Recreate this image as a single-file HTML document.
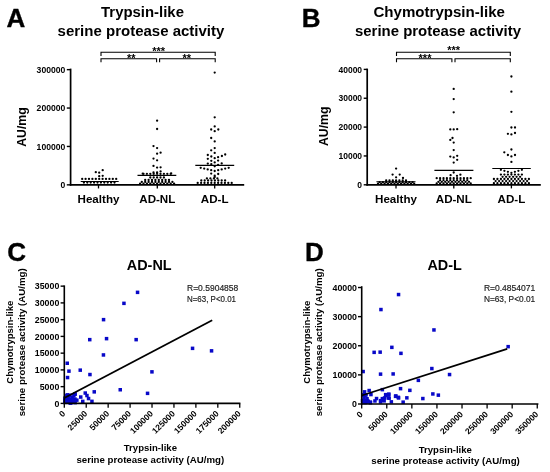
<!DOCTYPE html>
<html><head><meta charset="utf-8"><title>Serine protease activity</title>
<style>
html,body{margin:0;padding:0;background:#fff;}
body{width:550px;height:472px;overflow:hidden;}
svg{display:block;font-family:"Liberation Sans", sans-serif;}
</style></head><body>
<svg width="550" height="472" viewBox="0 0 550 472">
<rect width="550" height="472" fill="#fff"/>
<text x="6.6" y="27.4" font-size="26" font-weight="bold" text-anchor="start" fill="#000" stroke="#000" stroke-width="0.35">A</text>
<text x="301.8" y="27.4" font-size="26" font-weight="bold" text-anchor="start" fill="#000" stroke="#000" stroke-width="0.35">B</text>
<text x="7.2" y="261" font-size="26" font-weight="bold" text-anchor="start" fill="#000" stroke="#000" stroke-width="0.35">C</text>
<text x="304.9" y="261" font-size="26" font-weight="bold" text-anchor="start" fill="#000" stroke="#000" stroke-width="0.35">D</text>
<text x="142.5" y="17.2" font-size="15.0" font-weight="bold" text-anchor="middle" fill="#000" textLength="82.9" lengthAdjust="spacingAndGlyphs">Trypsin-like</text>
<text x="141" y="35.5" font-size="15.0" font-weight="bold" text-anchor="middle" fill="#000" textLength="166.8" lengthAdjust="spacingAndGlyphs">serine protease activity</text>
<line x1="70.6" y1="68.6" x2="70.6" y2="185.65" stroke="#000" stroke-width="1.7" stroke-linecap="butt"/>
<line x1="69.8" y1="184.85" x2="244.2" y2="184.85" stroke="#000" stroke-width="1.7" stroke-linecap="butt"/>
<line x1="66.8" y1="184.85" x2="70.6" y2="184.85" stroke="#000" stroke-width="1.4" stroke-linecap="butt"/>
<text x="65.3" y="188.04999999999998" font-size="9.2" font-weight="bold" text-anchor="end" fill="#000" textLength="4.78" lengthAdjust="spacingAndGlyphs">0</text>
<line x1="66.8" y1="146.45" x2="70.6" y2="146.45" stroke="#000" stroke-width="1.4" stroke-linecap="butt"/>
<text x="65.3" y="149.64999999999998" font-size="9.2" font-weight="bold" text-anchor="end" fill="#000" textLength="28.69" lengthAdjust="spacingAndGlyphs">100000</text>
<line x1="66.8" y1="108.05" x2="70.6" y2="108.05" stroke="#000" stroke-width="1.4" stroke-linecap="butt"/>
<text x="65.3" y="111.25" font-size="9.2" font-weight="bold" text-anchor="end" fill="#000" textLength="28.69" lengthAdjust="spacingAndGlyphs">200000</text>
<line x1="66.8" y1="69.65" x2="70.6" y2="69.65" stroke="#000" stroke-width="1.4" stroke-linecap="butt"/>
<text x="65.3" y="72.85000000000001" font-size="9.2" font-weight="bold" text-anchor="end" fill="#000" textLength="28.69" lengthAdjust="spacingAndGlyphs">300000</text>
<text x="26" y="127.0" font-size="12.3" font-weight="bold" text-anchor="middle" fill="#000" transform="rotate(-90 26 127.0)">AU/mg</text>
<line x1="98.5" y1="184.85" x2="98.5" y2="188.45" stroke="#000" stroke-width="1.3" stroke-linecap="butt"/>
<text x="98.5" y="203.4" font-size="11.6" font-weight="bold" text-anchor="middle" fill="#000">Healthy</text>
<line x1="157.3" y1="184.85" x2="157.3" y2="188.45" stroke="#000" stroke-width="1.3" stroke-linecap="butt"/>
<text x="157.3" y="203.4" font-size="11.6" font-weight="bold" text-anchor="middle" fill="#000">AD-NL</text>
<line x1="214.7" y1="184.85" x2="214.7" y2="188.45" stroke="#000" stroke-width="1.3" stroke-linecap="butt"/>
<text x="214.7" y="203.4" font-size="11.6" font-weight="bold" text-anchor="middle" fill="#000">AD-L</text>
<path d="M101 55.9V52.3H215.2V55.9" fill="none" stroke="#000" stroke-width="1.1"/>
<path d="M101 62.300000000000004V58.7H156.6V62.300000000000004" fill="none" stroke="#000" stroke-width="1.1"/>
<path d="M159.6 62.300000000000004V58.7H215.2V62.300000000000004" fill="none" stroke="#000" stroke-width="1.1"/>
<text x="158.7" y="54.5" font-size="11" font-weight="bold" text-anchor="middle" fill="#000">***</text>
<text x="131.2" y="61.6" font-size="11" font-weight="bold" text-anchor="middle" fill="#000">**</text>
<text x="186.8" y="61.6" font-size="11" font-weight="bold" text-anchor="middle" fill="#000">**</text>
<line x1="80.7" y1="181.5" x2="118.7" y2="181.5" stroke="#000" stroke-width="1.1" stroke-linecap="butt"/>
<line x1="137.5" y1="175.4" x2="176.3" y2="175.4" stroke="#000" stroke-width="1.1" stroke-linecap="butt"/>
<line x1="195.3" y1="165.4" x2="234.2" y2="165.4" stroke="#000" stroke-width="1.1" stroke-linecap="butt"/>
<g fill="#000"><circle cx="102.7" cy="170.2" r="1.15"/><circle cx="95.8" cy="172.2" r="1.15"/><circle cx="99.2" cy="172.7" r="1.15"/><circle cx="99.2" cy="176.2" r="1.15"/><circle cx="102.7" cy="175.8" r="1.15"/><circle cx="82.2" cy="178.9" r="1.15"/><circle cx="85.6" cy="178.9" r="1.15"/><circle cx="89.0" cy="178.9" r="1.15"/><circle cx="92.4" cy="178.9" r="1.15"/><circle cx="95.8" cy="178.9" r="1.15"/><circle cx="99.2" cy="178.9" r="1.15"/><circle cx="102.6" cy="178.9" r="1.15"/><circle cx="106.0" cy="178.9" r="1.15"/><circle cx="109.4" cy="178.9" r="1.15"/><circle cx="112.8" cy="178.9" r="1.15"/><circle cx="116.2" cy="178.9" r="1.15"/><circle cx="83.9" cy="182.5" r="1.15"/><circle cx="87.3" cy="182.5" r="1.15"/><circle cx="90.7" cy="182.5" r="1.15"/><circle cx="94.1" cy="182.5" r="1.15"/><circle cx="97.5" cy="182.5" r="1.15"/><circle cx="100.9" cy="182.5" r="1.15"/><circle cx="104.3" cy="182.5" r="1.15"/><circle cx="107.7" cy="182.5" r="1.15"/><circle cx="111.1" cy="182.5" r="1.15"/><circle cx="114.5" cy="182.5" r="1.15"/></g>
<g fill="#000"><circle cx="157.1" cy="120.7" r="1.15"/><circle cx="157.1" cy="129.0" r="1.15"/><circle cx="153.5" cy="146.1" r="1.15"/><circle cx="157.1" cy="148.1" r="1.15"/><circle cx="160.6" cy="152.7" r="1.15"/><circle cx="157.1" cy="153.7" r="1.15"/><circle cx="153.5" cy="158.6" r="1.15"/><circle cx="157.1" cy="160.3" r="1.15"/><circle cx="153.5" cy="165.9" r="1.15"/><circle cx="160.6" cy="167.3" r="1.15"/><circle cx="157.1" cy="167.6" r="1.15"/><circle cx="160.6" cy="171.4" r="1.15"/><circle cx="157.1" cy="172.4" r="1.15"/><circle cx="153.5" cy="172.4" r="1.15"/><circle cx="143.5" cy="173.8" r="1.15"/><circle cx="146.9" cy="173.8" r="1.15"/><circle cx="150.3" cy="173.8" r="1.15"/><circle cx="153.7" cy="173.8" r="1.15"/><circle cx="157.1" cy="173.8" r="1.15"/><circle cx="160.5" cy="173.8" r="1.15"/><circle cx="163.9" cy="173.8" r="1.15"/><circle cx="167.3" cy="173.8" r="1.15"/><circle cx="170.7" cy="173.8" r="1.15"/><circle cx="150.3" cy="177.5" r="1.15"/><circle cx="153.7" cy="177.5" r="1.15"/><circle cx="157.1" cy="177.5" r="1.15"/><circle cx="160.5" cy="177.5" r="1.15"/><circle cx="163.9" cy="177.5" r="1.15"/><circle cx="145.2" cy="180.0" r="1.15"/><circle cx="148.6" cy="180.0" r="1.15"/><circle cx="152.0" cy="180.0" r="1.15"/><circle cx="155.4" cy="180.0" r="1.15"/><circle cx="158.8" cy="180.0" r="1.15"/><circle cx="162.2" cy="180.0" r="1.15"/><circle cx="165.6" cy="180.0" r="1.15"/><circle cx="169.0" cy="180.0" r="1.15"/><circle cx="141.8" cy="181.9" r="1.15"/><circle cx="145.2" cy="181.9" r="1.15"/><circle cx="148.6" cy="181.9" r="1.15"/><circle cx="152.0" cy="181.9" r="1.15"/><circle cx="155.4" cy="181.9" r="1.15"/><circle cx="158.8" cy="181.9" r="1.15"/><circle cx="162.2" cy="181.9" r="1.15"/><circle cx="165.6" cy="181.9" r="1.15"/><circle cx="169.0" cy="181.9" r="1.15"/><circle cx="172.4" cy="181.9" r="1.15"/><circle cx="140.1" cy="183.6" r="1.15"/><circle cx="143.5" cy="183.6" r="1.15"/><circle cx="146.9" cy="183.6" r="1.15"/><circle cx="150.3" cy="183.6" r="1.15"/><circle cx="153.7" cy="183.6" r="1.15"/><circle cx="157.1" cy="183.6" r="1.15"/><circle cx="160.5" cy="183.6" r="1.15"/><circle cx="163.9" cy="183.6" r="1.15"/><circle cx="167.3" cy="183.6" r="1.15"/><circle cx="170.7" cy="183.6" r="1.15"/><circle cx="174.1" cy="183.6" r="1.15"/><circle cx="142.7" cy="173.6" r="1.15"/><circle cx="171.2" cy="173.3" r="1.15"/></g>
<g fill="#000"><circle cx="214.7" cy="72.6" r="1.15"/><circle cx="214.7" cy="117.3" r="1.15"/><circle cx="214.7" cy="126.4" r="1.15"/><circle cx="211.2" cy="129.5" r="1.15"/><circle cx="218.3" cy="129.5" r="1.15"/><circle cx="214.7" cy="131.2" r="1.15"/><circle cx="211.2" cy="138.0" r="1.15"/><circle cx="214.7" cy="141.4" r="1.15"/><circle cx="214.7" cy="148.1" r="1.15"/><circle cx="211.2" cy="150.3" r="1.15"/><circle cx="214.7" cy="152.9" r="1.15"/><circle cx="207.8" cy="155.0" r="1.15"/><circle cx="225.2" cy="154.5" r="1.15"/><circle cx="221.9" cy="156.0" r="1.15"/><circle cx="211.3" cy="156.5" r="1.15"/><circle cx="218.1" cy="157.2" r="1.15"/><circle cx="214.7" cy="158.2" r="1.15"/><circle cx="207.8" cy="158.8" r="1.15"/><circle cx="211.3" cy="160.8" r="1.15"/><circle cx="218.1" cy="160.6" r="1.15"/><circle cx="214.7" cy="162.4" r="1.15"/><circle cx="207.8" cy="163.6" r="1.15"/><circle cx="221.7" cy="163.4" r="1.15"/><circle cx="211.3" cy="164.2" r="1.15"/><circle cx="218.1" cy="164.8" r="1.15"/><circle cx="214.7" cy="166.3" r="1.15"/><circle cx="200.7" cy="167.8" r="1.15"/><circle cx="204.2" cy="168.6" r="1.15"/><circle cx="207.7" cy="169.4" r="1.15"/><circle cx="211.2" cy="170.2" r="1.15"/><circle cx="214.7" cy="171.0" r="1.15"/><circle cx="218.2" cy="170.2" r="1.15"/><circle cx="221.7" cy="169.4" r="1.15"/><circle cx="225.2" cy="168.6" r="1.15"/><circle cx="228.7" cy="167.8" r="1.15"/><circle cx="211.2" cy="173.6" r="1.15"/><circle cx="214.7" cy="175.6" r="1.15"/><circle cx="218.2" cy="174.0" r="1.15"/><circle cx="214.7" cy="177.0" r="1.15"/><circle cx="206.9" cy="178.4" r="1.15"/><circle cx="210.4" cy="178.4" r="1.15"/><circle cx="213.9" cy="178.4" r="1.15"/><circle cx="217.4" cy="178.4" r="1.15"/><circle cx="201.3" cy="180.5" r="1.15"/><circle cx="204.7" cy="180.5" r="1.15"/><circle cx="208.1" cy="180.5" r="1.15"/><circle cx="211.5" cy="180.5" r="1.15"/><circle cx="214.9" cy="180.5" r="1.15"/><circle cx="218.3" cy="180.5" r="1.15"/><circle cx="221.7" cy="180.5" r="1.15"/><circle cx="225.1" cy="180.5" r="1.15"/><circle cx="197.7" cy="182.9" r="1.15"/><circle cx="201.1" cy="182.9" r="1.15"/><circle cx="204.5" cy="182.9" r="1.15"/><circle cx="207.9" cy="182.9" r="1.15"/><circle cx="211.3" cy="182.9" r="1.15"/><circle cx="214.7" cy="182.9" r="1.15"/><circle cx="218.1" cy="182.9" r="1.15"/><circle cx="221.5" cy="182.9" r="1.15"/><circle cx="224.9" cy="182.9" r="1.15"/><circle cx="228.3" cy="182.9" r="1.15"/><circle cx="231.7" cy="182.9" r="1.15"/></g>
<text x="439.2" y="17.2" font-size="15.0" font-weight="bold" text-anchor="middle" fill="#000" textLength="131.5" lengthAdjust="spacingAndGlyphs">Chymotrypsin-like</text>
<text x="438" y="35.5" font-size="15.0" font-weight="bold" text-anchor="middle" fill="#000" textLength="166" lengthAdjust="spacingAndGlyphs">serine protease activity</text>
<line x1="367.2" y1="68.6" x2="367.2" y2="185.60000000000002" stroke="#000" stroke-width="1.7" stroke-linecap="butt"/>
<line x1="366.4" y1="184.8" x2="540.8" y2="184.8" stroke="#000" stroke-width="1.7" stroke-linecap="butt"/>
<line x1="363.7" y1="184.8" x2="367.2" y2="184.8" stroke="#000" stroke-width="1.4" stroke-linecap="butt"/>
<text x="362.1" y="188.0" font-size="9.2" font-weight="bold" text-anchor="end" fill="#000" textLength="4.73" lengthAdjust="spacingAndGlyphs">0</text>
<line x1="363.7" y1="155.95000000000002" x2="367.2" y2="155.95000000000002" stroke="#000" stroke-width="1.4" stroke-linecap="butt"/>
<text x="362.1" y="159.15" font-size="9.2" font-weight="bold" text-anchor="end" fill="#000" textLength="23.63" lengthAdjust="spacingAndGlyphs">10000</text>
<line x1="363.7" y1="127.10000000000001" x2="367.2" y2="127.10000000000001" stroke="#000" stroke-width="1.4" stroke-linecap="butt"/>
<text x="362.1" y="130.3" font-size="9.2" font-weight="bold" text-anchor="end" fill="#000" textLength="23.63" lengthAdjust="spacingAndGlyphs">20000</text>
<line x1="363.7" y1="98.25" x2="367.2" y2="98.25" stroke="#000" stroke-width="1.4" stroke-linecap="butt"/>
<text x="362.1" y="101.45" font-size="9.2" font-weight="bold" text-anchor="end" fill="#000" textLength="23.63" lengthAdjust="spacingAndGlyphs">30000</text>
<line x1="363.7" y1="69.4" x2="367.2" y2="69.4" stroke="#000" stroke-width="1.4" stroke-linecap="butt"/>
<text x="362.1" y="72.60000000000001" font-size="9.2" font-weight="bold" text-anchor="end" fill="#000" textLength="23.63" lengthAdjust="spacingAndGlyphs">40000</text>
<text x="328.1" y="126.3" font-size="12.3" font-weight="bold" text-anchor="middle" fill="#000" transform="rotate(-90 328.1 126.3)">AU/mg</text>
<line x1="396" y1="184.8" x2="396" y2="188.4" stroke="#000" stroke-width="1.3" stroke-linecap="butt"/>
<text x="396" y="203.4" font-size="11.6" font-weight="bold" text-anchor="middle" fill="#000">Healthy</text>
<line x1="453.8" y1="184.8" x2="453.8" y2="188.4" stroke="#000" stroke-width="1.3" stroke-linecap="butt"/>
<text x="453.8" y="203.4" font-size="11.6" font-weight="bold" text-anchor="middle" fill="#000">AD-NL</text>
<line x1="511.4" y1="184.8" x2="511.4" y2="188.4" stroke="#000" stroke-width="1.3" stroke-linecap="butt"/>
<text x="511.4" y="203.4" font-size="11.6" font-weight="bold" text-anchor="middle" fill="#000">AD-L</text>
<path d="M396.5 55.9V52.3H510.3V55.9" fill="none" stroke="#000" stroke-width="1.1"/>
<path d="M396.5 62.300000000000004V58.7H451.9V62.300000000000004" fill="none" stroke="#000" stroke-width="1.1"/>
<path d="M455 62.300000000000004V58.7H510.3V62.300000000000004" fill="none" stroke="#000" stroke-width="1.1"/>
<text x="453.7" y="54.4" font-size="11" font-weight="bold" text-anchor="middle" fill="#000">***</text>
<text x="425" y="61.6" font-size="11" font-weight="bold" text-anchor="middle" fill="#000">***</text>
<line x1="376.4" y1="181.7" x2="415.5" y2="181.7" stroke="#000" stroke-width="1.1" stroke-linecap="butt"/>
<line x1="434.4" y1="170.4" x2="473.4" y2="170.4" stroke="#000" stroke-width="1.1" stroke-linecap="butt"/>
<line x1="492.3" y1="168.5" x2="530.8" y2="168.5" stroke="#000" stroke-width="1.1" stroke-linecap="butt"/>
<g fill="#000"><circle cx="396.1" cy="168.6" r="1.15"/><circle cx="392.6" cy="174.6" r="1.15"/><circle cx="399.7" cy="174.6" r="1.15"/><circle cx="396.1" cy="177.3" r="1.15"/><circle cx="403.0" cy="178.0" r="1.15"/><circle cx="386.2" cy="180.5" r="1.15"/><circle cx="389.5" cy="180.5" r="1.15"/><circle cx="392.8" cy="180.5" r="1.15"/><circle cx="396.1" cy="180.5" r="1.15"/><circle cx="399.4" cy="180.5" r="1.15"/><circle cx="402.7" cy="180.5" r="1.15"/><circle cx="406.0" cy="180.5" r="1.15"/><circle cx="379.6" cy="182.2" r="1.15"/><circle cx="382.9" cy="182.2" r="1.15"/><circle cx="386.2" cy="182.2" r="1.15"/><circle cx="389.5" cy="182.2" r="1.15"/><circle cx="392.8" cy="182.2" r="1.15"/><circle cx="396.1" cy="182.2" r="1.15"/><circle cx="399.4" cy="182.2" r="1.15"/><circle cx="402.7" cy="182.2" r="1.15"/><circle cx="406.0" cy="182.2" r="1.15"/><circle cx="409.3" cy="182.2" r="1.15"/><circle cx="412.6" cy="182.2" r="1.15"/><circle cx="378.0" cy="183.6" r="1.15"/><circle cx="381.2" cy="183.6" r="1.15"/><circle cx="384.6" cy="183.6" r="1.15"/><circle cx="387.9" cy="183.6" r="1.15"/><circle cx="391.2" cy="183.6" r="1.15"/><circle cx="394.5" cy="183.6" r="1.15"/><circle cx="397.8" cy="183.6" r="1.15"/><circle cx="401.1" cy="183.6" r="1.15"/><circle cx="404.4" cy="183.6" r="1.15"/><circle cx="407.7" cy="183.6" r="1.15"/><circle cx="411.0" cy="183.6" r="1.15"/><circle cx="414.2" cy="183.6" r="1.15"/></g>
<g fill="#000"><circle cx="453.7" cy="88.9" r="1.15"/><circle cx="453.7" cy="99.1" r="1.15"/><circle cx="453.7" cy="112.3" r="1.15"/><circle cx="450.3" cy="129.4" r="1.15"/><circle cx="453.7" cy="129.4" r="1.15"/><circle cx="457.2" cy="129.2" r="1.15"/><circle cx="452.5" cy="138.0" r="1.15"/><circle cx="450.3" cy="139.9" r="1.15"/><circle cx="453.7" cy="142.6" r="1.15"/><circle cx="453.7" cy="150.1" r="1.15"/><circle cx="450.3" cy="156.6" r="1.15"/><circle cx="457.2" cy="155.8" r="1.15"/><circle cx="453.7" cy="157.4" r="1.15"/><circle cx="457.2" cy="159.8" r="1.15"/><circle cx="453.7" cy="162.6" r="1.15"/><circle cx="453.7" cy="172.5" r="1.15"/><circle cx="460.4" cy="174.7" r="1.15"/><circle cx="450.6" cy="175.2" r="1.15"/><circle cx="457.0" cy="175.8" r="1.15"/><circle cx="436.7" cy="178.2" r="1.15"/><circle cx="440.1" cy="178.2" r="1.15"/><circle cx="443.5" cy="178.2" r="1.15"/><circle cx="446.9" cy="178.2" r="1.15"/><circle cx="450.3" cy="178.2" r="1.15"/><circle cx="453.7" cy="178.2" r="1.15"/><circle cx="457.1" cy="178.2" r="1.15"/><circle cx="460.5" cy="178.2" r="1.15"/><circle cx="463.9" cy="178.2" r="1.15"/><circle cx="467.3" cy="178.2" r="1.15"/><circle cx="470.7" cy="178.2" r="1.15"/><circle cx="440.1" cy="180.2" r="1.15"/><circle cx="443.5" cy="180.2" r="1.15"/><circle cx="446.9" cy="180.2" r="1.15"/><circle cx="450.3" cy="180.2" r="1.15"/><circle cx="453.7" cy="180.2" r="1.15"/><circle cx="457.1" cy="180.2" r="1.15"/><circle cx="460.5" cy="180.2" r="1.15"/><circle cx="463.9" cy="180.2" r="1.15"/><circle cx="467.3" cy="180.2" r="1.15"/><circle cx="438.4" cy="181.8" r="1.15"/><circle cx="441.8" cy="181.8" r="1.15"/><circle cx="445.2" cy="181.8" r="1.15"/><circle cx="448.6" cy="181.8" r="1.15"/><circle cx="452.0" cy="181.8" r="1.15"/><circle cx="455.4" cy="181.8" r="1.15"/><circle cx="458.8" cy="181.8" r="1.15"/><circle cx="462.2" cy="181.8" r="1.15"/><circle cx="465.6" cy="181.8" r="1.15"/><circle cx="469.0" cy="181.8" r="1.15"/><circle cx="436.7" cy="183.4" r="1.15"/><circle cx="440.1" cy="183.4" r="1.15"/><circle cx="443.5" cy="183.4" r="1.15"/><circle cx="446.9" cy="183.4" r="1.15"/><circle cx="450.3" cy="183.4" r="1.15"/><circle cx="453.7" cy="183.4" r="1.15"/><circle cx="457.1" cy="183.4" r="1.15"/><circle cx="460.5" cy="183.4" r="1.15"/><circle cx="463.9" cy="183.4" r="1.15"/><circle cx="467.3" cy="183.4" r="1.15"/><circle cx="470.7" cy="183.4" r="1.15"/></g>
<g fill="#000"><circle cx="511.4" cy="76.5" r="1.15"/><circle cx="511.4" cy="91.7" r="1.15"/><circle cx="511.4" cy="111.8" r="1.15"/><circle cx="511.4" cy="127.5" r="1.15"/><circle cx="515.0" cy="127.5" r="1.15"/><circle cx="507.9" cy="133.8" r="1.15"/><circle cx="511.4" cy="134.4" r="1.15"/><circle cx="515.0" cy="133.0" r="1.15"/><circle cx="511.4" cy="149.5" r="1.15"/><circle cx="504.3" cy="152.3" r="1.15"/><circle cx="507.9" cy="155.0" r="1.15"/><circle cx="511.4" cy="156.4" r="1.15"/><circle cx="515.0" cy="155.0" r="1.15"/><circle cx="511.4" cy="161.9" r="1.15"/><circle cx="500.9" cy="169.8" r="1.15"/><circle cx="504.4" cy="170.8" r="1.15"/><circle cx="507.9" cy="171.8" r="1.15"/><circle cx="511.4" cy="172.8" r="1.15"/><circle cx="514.9" cy="171.8" r="1.15"/><circle cx="518.4" cy="170.8" r="1.15"/><circle cx="521.9" cy="169.8" r="1.15"/><circle cx="500.9" cy="174.6" r="1.15"/><circle cx="504.4" cy="174.6" r="1.15"/><circle cx="507.9" cy="174.6" r="1.15"/><circle cx="511.4" cy="174.6" r="1.15"/><circle cx="514.9" cy="174.6" r="1.15"/><circle cx="518.4" cy="174.6" r="1.15"/><circle cx="521.9" cy="174.6" r="1.15"/><circle cx="502.6" cy="176.8" r="1.15"/><circle cx="506.1" cy="176.8" r="1.15"/><circle cx="509.6" cy="176.8" r="1.15"/><circle cx="513.1" cy="176.8" r="1.15"/><circle cx="516.6" cy="176.8" r="1.15"/><circle cx="520.1" cy="176.8" r="1.15"/><circle cx="493.9" cy="179.0" r="1.15"/><circle cx="497.4" cy="179.0" r="1.15"/><circle cx="500.9" cy="179.0" r="1.15"/><circle cx="504.4" cy="179.0" r="1.15"/><circle cx="507.9" cy="179.0" r="1.15"/><circle cx="511.4" cy="179.0" r="1.15"/><circle cx="514.9" cy="179.0" r="1.15"/><circle cx="518.4" cy="179.0" r="1.15"/><circle cx="521.9" cy="179.0" r="1.15"/><circle cx="525.4" cy="179.0" r="1.15"/><circle cx="528.9" cy="179.0" r="1.15"/><circle cx="495.6" cy="181.1" r="1.15"/><circle cx="499.1" cy="181.1" r="1.15"/><circle cx="502.6" cy="181.1" r="1.15"/><circle cx="506.1" cy="181.1" r="1.15"/><circle cx="509.6" cy="181.1" r="1.15"/><circle cx="513.1" cy="181.1" r="1.15"/><circle cx="516.6" cy="181.1" r="1.15"/><circle cx="520.1" cy="181.1" r="1.15"/><circle cx="523.6" cy="181.1" r="1.15"/><circle cx="527.1" cy="181.1" r="1.15"/><circle cx="493.9" cy="183.2" r="1.15"/><circle cx="497.4" cy="183.2" r="1.15"/><circle cx="500.9" cy="183.2" r="1.15"/><circle cx="504.4" cy="183.2" r="1.15"/><circle cx="507.9" cy="183.2" r="1.15"/><circle cx="511.4" cy="183.2" r="1.15"/><circle cx="514.9" cy="183.2" r="1.15"/><circle cx="518.4" cy="183.2" r="1.15"/><circle cx="521.9" cy="183.2" r="1.15"/><circle cx="525.4" cy="183.2" r="1.15"/><circle cx="528.9" cy="183.2" r="1.15"/></g>
<text x="149.2" y="269.6" font-size="15.3" font-weight="bold" text-anchor="middle" fill="#000" textLength="44.8" lengthAdjust="spacingAndGlyphs">AD-NL</text>
<line x1="60.6" y1="403.4" x2="64.3" y2="403.4" stroke="#000" stroke-width="1.4" stroke-linecap="butt"/>
<text x="59.3" y="406.59999999999997" font-size="9.3" font-weight="bold" text-anchor="end" fill="#000" textLength="4.89" lengthAdjust="spacingAndGlyphs">0</text>
<line x1="60.6" y1="386.65" x2="64.3" y2="386.65" stroke="#000" stroke-width="1.4" stroke-linecap="butt"/>
<text x="59.3" y="389.84999999999997" font-size="9.3" font-weight="bold" text-anchor="end" fill="#000" textLength="19.57" lengthAdjust="spacingAndGlyphs">5000</text>
<line x1="60.6" y1="369.9" x2="64.3" y2="369.9" stroke="#000" stroke-width="1.4" stroke-linecap="butt"/>
<text x="59.3" y="373.09999999999997" font-size="9.3" font-weight="bold" text-anchor="end" fill="#000" textLength="24.46" lengthAdjust="spacingAndGlyphs">10000</text>
<line x1="60.6" y1="353.15" x2="64.3" y2="353.15" stroke="#000" stroke-width="1.4" stroke-linecap="butt"/>
<text x="59.3" y="356.34999999999997" font-size="9.3" font-weight="bold" text-anchor="end" fill="#000" textLength="24.46" lengthAdjust="spacingAndGlyphs">15000</text>
<line x1="60.6" y1="336.4" x2="64.3" y2="336.4" stroke="#000" stroke-width="1.4" stroke-linecap="butt"/>
<text x="59.3" y="339.59999999999997" font-size="9.3" font-weight="bold" text-anchor="end" fill="#000" textLength="24.46" lengthAdjust="spacingAndGlyphs">20000</text>
<line x1="60.6" y1="319.65" x2="64.3" y2="319.65" stroke="#000" stroke-width="1.4" stroke-linecap="butt"/>
<text x="59.3" y="322.84999999999997" font-size="9.3" font-weight="bold" text-anchor="end" fill="#000" textLength="24.46" lengthAdjust="spacingAndGlyphs">25000</text>
<line x1="60.6" y1="302.9" x2="64.3" y2="302.9" stroke="#000" stroke-width="1.4" stroke-linecap="butt"/>
<text x="59.3" y="306.09999999999997" font-size="9.3" font-weight="bold" text-anchor="end" fill="#000" textLength="24.46" lengthAdjust="spacingAndGlyphs">30000</text>
<line x1="60.6" y1="286.15" x2="64.3" y2="286.15" stroke="#000" stroke-width="1.4" stroke-linecap="butt"/>
<text x="59.3" y="289.34999999999997" font-size="9.3" font-weight="bold" text-anchor="end" fill="#000" textLength="24.46" lengthAdjust="spacingAndGlyphs">35000</text>
<line x1="64.3" y1="403.4" x2="64.3" y2="407.79999999999995" stroke="#000" stroke-width="1.3" stroke-linecap="butt"/>
<text x="65.89999999999999" y="414.2" font-size="8.5" font-weight="bold" text-anchor="end" fill="#000" transform="rotate(-45 65.89999999999999 414.2)">0</text>
<line x1="86.22999999999999" y1="403.4" x2="86.22999999999999" y2="407.79999999999995" stroke="#000" stroke-width="1.3" stroke-linecap="butt"/>
<text x="87.82999999999998" y="414.2" font-size="8.5" font-weight="bold" text-anchor="end" fill="#000" transform="rotate(-45 87.82999999999998 414.2)">25000</text>
<line x1="108.16" y1="403.4" x2="108.16" y2="407.79999999999995" stroke="#000" stroke-width="1.3" stroke-linecap="butt"/>
<text x="109.75999999999999" y="414.2" font-size="8.5" font-weight="bold" text-anchor="end" fill="#000" transform="rotate(-45 109.75999999999999 414.2)">50000</text>
<line x1="130.08999999999997" y1="403.4" x2="130.08999999999997" y2="407.79999999999995" stroke="#000" stroke-width="1.3" stroke-linecap="butt"/>
<text x="131.68999999999997" y="414.2" font-size="8.5" font-weight="bold" text-anchor="end" fill="#000" transform="rotate(-45 131.68999999999997 414.2)">75000</text>
<line x1="152.01999999999998" y1="403.4" x2="152.01999999999998" y2="407.79999999999995" stroke="#000" stroke-width="1.3" stroke-linecap="butt"/>
<text x="153.61999999999998" y="414.2" font-size="8.5" font-weight="bold" text-anchor="end" fill="#000" transform="rotate(-45 153.61999999999998 414.2)">100000</text>
<line x1="173.95" y1="403.4" x2="173.95" y2="407.79999999999995" stroke="#000" stroke-width="1.3" stroke-linecap="butt"/>
<text x="175.54999999999998" y="414.2" font-size="8.5" font-weight="bold" text-anchor="end" fill="#000" transform="rotate(-45 175.54999999999998 414.2)">125000</text>
<line x1="195.88" y1="403.4" x2="195.88" y2="407.79999999999995" stroke="#000" stroke-width="1.3" stroke-linecap="butt"/>
<text x="197.48" y="414.2" font-size="8.5" font-weight="bold" text-anchor="end" fill="#000" transform="rotate(-45 197.48 414.2)">150000</text>
<line x1="217.81" y1="403.4" x2="217.81" y2="407.79999999999995" stroke="#000" stroke-width="1.3" stroke-linecap="butt"/>
<text x="219.41" y="414.2" font-size="8.5" font-weight="bold" text-anchor="end" fill="#000" transform="rotate(-45 219.41 414.2)">175000</text>
<line x1="239.74" y1="403.4" x2="239.74" y2="407.79999999999995" stroke="#000" stroke-width="1.3" stroke-linecap="butt"/>
<text x="241.34" y="414.2" font-size="8.5" font-weight="bold" text-anchor="end" fill="#000" transform="rotate(-45 241.34 414.2)">200000</text>
<text x="13.2" y="342.2" font-size="9.7" font-weight="bold" text-anchor="middle" fill="#000" transform="rotate(-90 13.2 342.2)" textLength="83" lengthAdjust="spacingAndGlyphs">Chymotrypsin-like</text>
<text x="25.0" y="342.3" font-size="9.7" font-weight="bold" text-anchor="middle" fill="#000" transform="rotate(-90 25.0 342.3)" textLength="148" lengthAdjust="spacingAndGlyphs">serine protease activity (AU/mg)</text>
<text x="150.4" y="450.9" font-size="9.7" font-weight="bold" text-anchor="middle" fill="#000" textLength="53.2" lengthAdjust="spacingAndGlyphs">Trypsin-like</text>
<text x="150.3" y="462.6" font-size="9.7" font-weight="bold" text-anchor="middle" fill="#000" textLength="147.8" lengthAdjust="spacingAndGlyphs">serine protease activity (AU/mg)</text>
<text x="187.0" y="290.7" font-size="9.8" font-weight="normal" text-anchor="start" fill="#222" stroke="#222" stroke-width="0.2" textLength="51.3" lengthAdjust="spacingAndGlyphs">R=0.5904858</text>
<text x="187.0" y="302.2" font-size="9.8" font-weight="normal" text-anchor="start" fill="#222" stroke="#222" stroke-width="0.2" textLength="49" lengthAdjust="spacingAndGlyphs">N=63, P&lt;0.01</text>
<g fill="#0808c8"><rect x="135.8" y="290.6" width="3.5" height="3.5"/><rect x="122.2" y="301.6" width="3.5" height="3.5"/><rect x="101.8" y="317.9" width="3.5" height="3.5"/><rect x="88.0" y="337.9" width="3.5" height="3.5"/><rect x="104.8" y="336.9" width="3.5" height="3.5"/><rect x="134.4" y="337.9" width="3.5" height="3.5"/><rect x="101.7" y="353.2" width="3.5" height="3.5"/><rect x="65.5" y="361.5" width="3.5" height="3.5"/><rect x="67.2" y="369.4" width="3.5" height="3.5"/><rect x="78.5" y="368.4" width="3.5" height="3.5"/><rect x="65.8" y="375.8" width="3.5" height="3.5"/><rect x="88.2" y="372.8" width="3.5" height="3.5"/><rect x="190.8" y="346.6" width="3.5" height="3.5"/><rect x="209.8" y="349.1" width="3.5" height="3.5"/><rect x="150.2" y="370.1" width="3.5" height="3.5"/><rect x="118.5" y="388.0" width="3.5" height="3.5"/><rect x="145.8" y="391.6" width="3.5" height="3.5"/><rect x="92.5" y="390.1" width="3.5" height="3.5"/><rect x="83.5" y="391.3" width="3.5" height="3.5"/><rect x="85.2" y="393.8" width="3.5" height="3.5"/><rect x="86.8" y="396.8" width="3.5" height="3.5"/><rect x="79.0" y="395.3" width="3.5" height="3.5"/><rect x="81.0" y="399.6" width="3.5" height="3.5"/><rect x="90.2" y="399.6" width="3.5" height="3.5"/><rect x="63.5" y="396.7" width="3.5" height="3.5"/><rect x="68.1" y="397.7" width="3.5" height="3.5"/><rect x="64.4" y="400.5" width="3.5" height="3.5"/><rect x="73.4" y="400.9" width="3.5" height="3.5"/><rect x="63.2" y="398.7" width="3.5" height="3.5"/><rect x="69.1" y="401.3" width="3.5" height="3.5"/><rect x="66.2" y="397.7" width="3.5" height="3.5"/><rect x="65.0" y="399.8" width="3.5" height="3.5"/><rect x="70.3" y="395.7" width="3.5" height="3.5"/><rect x="71.9" y="400.5" width="3.5" height="3.5"/><rect x="63.9" y="400.2" width="3.5" height="3.5"/><rect x="63.3" y="396.4" width="3.5" height="3.5"/><rect x="63.4" y="400.5" width="3.5" height="3.5"/><rect x="67.1" y="398.2" width="3.5" height="3.5"/><rect x="65.1" y="393.8" width="3.5" height="3.5"/><rect x="65.7" y="393.1" width="3.5" height="3.5"/><rect x="70.8" y="397.3" width="3.5" height="3.5"/><rect x="75.1" y="398.4" width="3.5" height="3.5"/><rect x="64.8" y="400.3" width="3.5" height="3.5"/><rect x="65.5" y="399.4" width="3.5" height="3.5"/><rect x="68.7" y="400.6" width="3.5" height="3.5"/><rect x="66.2" y="399.2" width="3.5" height="3.5"/><rect x="68.4" y="401.3" width="3.5" height="3.5"/><rect x="67.3" y="397.4" width="3.5" height="3.5"/><rect x="73.2" y="397.3" width="3.5" height="3.5"/><rect x="68.2" y="393.5" width="3.5" height="3.5"/><rect x="73.4" y="392.3" width="3.5" height="3.5"/><rect x="64.5" y="399.5" width="3.5" height="3.5"/><rect x="72.1" y="393.9" width="3.5" height="3.5"/><rect x="68.8" y="398.7" width="3.5" height="3.5"/><rect x="63.8" y="398.9" width="3.5" height="3.5"/><rect x="66.5" y="397.1" width="3.5" height="3.5"/><rect x="63.4" y="400.1" width="3.5" height="3.5"/><rect x="73.1" y="392.3" width="3.5" height="3.5"/><rect x="71.3" y="397.8" width="3.5" height="3.5"/><rect x="65.6" y="400.3" width="3.5" height="3.5"/><rect x="65.5" y="395.2" width="3.5" height="3.5"/><rect x="64.1" y="400.6" width="3.5" height="3.5"/></g>
<line x1="64.3" y1="285.4" x2="64.3" y2="404.2" stroke="#000" stroke-width="1.6" stroke-linecap="butt"/>
<line x1="63.5" y1="403.4" x2="240.4" y2="403.4" stroke="#000" stroke-width="1.6" stroke-linecap="butt"/>
<line x1="64.3" y1="398.0" x2="212.2" y2="320.2" stroke="#000" stroke-width="1.8" stroke-linecap="butt"/>
<text x="444.6" y="269.6" font-size="15.3" font-weight="bold" text-anchor="middle" fill="#000" textLength="34.4" lengthAdjust="spacingAndGlyphs">AD-L</text>
<line x1="358.0" y1="404.0" x2="361.7" y2="404.0" stroke="#000" stroke-width="1.4" stroke-linecap="butt"/>
<text x="357.0" y="407.2" font-size="9.3" font-weight="bold" text-anchor="end" fill="#000" textLength="4.89" lengthAdjust="spacingAndGlyphs">0</text>
<line x1="358.0" y1="374.88" x2="361.7" y2="374.88" stroke="#000" stroke-width="1.4" stroke-linecap="butt"/>
<text x="357.0" y="378.08" font-size="9.3" font-weight="bold" text-anchor="end" fill="#000" textLength="24.46" lengthAdjust="spacingAndGlyphs">10000</text>
<line x1="358.0" y1="345.76" x2="361.7" y2="345.76" stroke="#000" stroke-width="1.4" stroke-linecap="butt"/>
<text x="357.0" y="348.96" font-size="9.3" font-weight="bold" text-anchor="end" fill="#000" textLength="24.46" lengthAdjust="spacingAndGlyphs">20000</text>
<line x1="358.0" y1="316.64" x2="361.7" y2="316.64" stroke="#000" stroke-width="1.4" stroke-linecap="butt"/>
<text x="357.0" y="319.84" font-size="9.3" font-weight="bold" text-anchor="end" fill="#000" textLength="24.46" lengthAdjust="spacingAndGlyphs">30000</text>
<line x1="358.0" y1="287.52" x2="361.7" y2="287.52" stroke="#000" stroke-width="1.4" stroke-linecap="butt"/>
<text x="357.0" y="290.71999999999997" font-size="9.3" font-weight="bold" text-anchor="end" fill="#000" textLength="24.46" lengthAdjust="spacingAndGlyphs">40000</text>
<line x1="361.7" y1="404.0" x2="361.7" y2="408.5" stroke="#000" stroke-width="1.3" stroke-linecap="butt"/>
<text x="363.3" y="414.8" font-size="8.5" font-weight="bold" text-anchor="end" fill="#000" transform="rotate(-45 363.3 414.8)">0</text>
<line x1="386.78" y1="404.0" x2="386.78" y2="408.5" stroke="#000" stroke-width="1.3" stroke-linecap="butt"/>
<text x="388.38" y="414.8" font-size="8.5" font-weight="bold" text-anchor="end" fill="#000" transform="rotate(-45 388.38 414.8)">50000</text>
<line x1="411.86" y1="404.0" x2="411.86" y2="408.5" stroke="#000" stroke-width="1.3" stroke-linecap="butt"/>
<text x="413.46000000000004" y="414.8" font-size="8.5" font-weight="bold" text-anchor="end" fill="#000" transform="rotate(-45 413.46000000000004 414.8)">100000</text>
<line x1="436.94" y1="404.0" x2="436.94" y2="408.5" stroke="#000" stroke-width="1.3" stroke-linecap="butt"/>
<text x="438.54" y="414.8" font-size="8.5" font-weight="bold" text-anchor="end" fill="#000" transform="rotate(-45 438.54 414.8)">150000</text>
<line x1="462.02" y1="404.0" x2="462.02" y2="408.5" stroke="#000" stroke-width="1.3" stroke-linecap="butt"/>
<text x="463.62" y="414.8" font-size="8.5" font-weight="bold" text-anchor="end" fill="#000" transform="rotate(-45 463.62 414.8)">200000</text>
<line x1="487.09999999999997" y1="404.0" x2="487.09999999999997" y2="408.5" stroke="#000" stroke-width="1.3" stroke-linecap="butt"/>
<text x="488.7" y="414.8" font-size="8.5" font-weight="bold" text-anchor="end" fill="#000" transform="rotate(-45 488.7 414.8)">250000</text>
<line x1="512.18" y1="404.0" x2="512.18" y2="408.5" stroke="#000" stroke-width="1.3" stroke-linecap="butt"/>
<text x="513.78" y="414.8" font-size="8.5" font-weight="bold" text-anchor="end" fill="#000" transform="rotate(-45 513.78 414.8)">300000</text>
<line x1="537.26" y1="404.0" x2="537.26" y2="408.5" stroke="#000" stroke-width="1.3" stroke-linecap="butt"/>
<text x="538.86" y="414.8" font-size="8.5" font-weight="bold" text-anchor="end" fill="#000" transform="rotate(-45 538.86 414.8)">350000</text>
<text x="309.8" y="342.2" font-size="9.7" font-weight="bold" text-anchor="middle" fill="#000" transform="rotate(-90 309.8 342.2)" textLength="83" lengthAdjust="spacingAndGlyphs">Chymotrypsin-like</text>
<text x="322.2" y="342.3" font-size="9.7" font-weight="bold" text-anchor="middle" fill="#000" transform="rotate(-90 322.2 342.3)" textLength="148" lengthAdjust="spacingAndGlyphs">serine protease activity (AU/mg)</text>
<text x="445.3" y="452.6" font-size="9.7" font-weight="bold" text-anchor="middle" fill="#000" textLength="53.2" lengthAdjust="spacingAndGlyphs">Trypsin-like</text>
<text x="445.6" y="464.4" font-size="9.7" font-weight="bold" text-anchor="middle" fill="#000" textLength="148.5" lengthAdjust="spacingAndGlyphs">serine protease activity (AU/mg)</text>
<text x="483.9" y="290.6" font-size="9.8" font-weight="normal" text-anchor="start" fill="#222" stroke="#222" stroke-width="0.2" textLength="51.3" lengthAdjust="spacingAndGlyphs">R=0.4854071</text>
<text x="483.9" y="302.2" font-size="9.8" font-weight="normal" text-anchor="start" fill="#222" stroke="#222" stroke-width="0.2" textLength="51.3" lengthAdjust="spacingAndGlyphs">N=63, P&lt;0.01</text>
<g fill="#0808c8"><rect x="396.8" y="292.8" width="3.5" height="3.5"/><rect x="379.2" y="307.8" width="3.5" height="3.5"/><rect x="432.2" y="328.2" width="3.5" height="3.5"/><rect x="506.4" y="344.9" width="3.5" height="3.5"/><rect x="390.1" y="345.6" width="3.5" height="3.5"/><rect x="372.4" y="350.6" width="3.5" height="3.5"/><rect x="378.4" y="350.4" width="3.5" height="3.5"/><rect x="399.2" y="351.6" width="3.5" height="3.5"/><rect x="361.4" y="369.8" width="3.5" height="3.5"/><rect x="378.8" y="372.4" width="3.5" height="3.5"/><rect x="391.4" y="372.2" width="3.5" height="3.5"/><rect x="430.1" y="366.8" width="3.5" height="3.5"/><rect x="447.8" y="372.8" width="3.5" height="3.5"/><rect x="416.6" y="378.6" width="3.5" height="3.5"/><rect x="398.8" y="386.9" width="3.5" height="3.5"/><rect x="408.1" y="388.6" width="3.5" height="3.5"/><rect x="380.6" y="387.9" width="3.5" height="3.5"/><rect x="367.4" y="388.8" width="3.5" height="3.5"/><rect x="362.8" y="390.1" width="3.5" height="3.5"/><rect x="431.1" y="392.2" width="3.5" height="3.5"/><rect x="436.6" y="393.4" width="3.5" height="3.5"/><rect x="421.1" y="396.8" width="3.5" height="3.5"/><rect x="405.1" y="396.1" width="3.5" height="3.5"/><rect x="394.1" y="394.2" width="3.5" height="3.5"/><rect x="396.6" y="395.6" width="3.5" height="3.5"/><rect x="386.9" y="392.8" width="3.5" height="3.5"/><rect x="384.1" y="393.8" width="3.5" height="3.5"/><rect x="387.4" y="396.4" width="3.5" height="3.5"/><rect x="380.6" y="396.9" width="3.5" height="3.5"/><rect x="374.8" y="396.8" width="3.5" height="3.5"/><rect x="369.2" y="392.8" width="3.5" height="3.5"/><rect x="401.4" y="400.4" width="3.5" height="3.5"/><rect x="389.6" y="400.1" width="3.5" height="3.5"/><rect x="382.4" y="399.1" width="3.5" height="3.5"/><rect x="378.8" y="400.1" width="3.5" height="3.5"/><rect x="373.2" y="399.2" width="3.5" height="3.5"/><rect x="383.9" y="392.9" width="3.5" height="3.5"/><rect x="387.1" y="392.4" width="3.5" height="3.5"/><rect x="382.8" y="396.2" width="3.5" height="3.5"/><rect x="386.6" y="396.2" width="3.5" height="3.5"/><rect x="381.1" y="398.4" width="3.5" height="3.5"/><rect x="378.9" y="398.9" width="3.5" height="3.5"/><rect x="393.8" y="394.6" width="3.5" height="3.5"/><rect x="396.8" y="396.2" width="3.5" height="3.5"/><rect x="365.3" y="397.0" width="3.5" height="3.5"/><rect x="363.2" y="393.2" width="3.5" height="3.5"/><rect x="361.1" y="393.2" width="3.5" height="3.5"/><rect x="365.0" y="400.3" width="3.5" height="3.5"/><rect x="366.0" y="399.3" width="3.5" height="3.5"/><rect x="362.1" y="400.0" width="3.5" height="3.5"/><rect x="363.5" y="400.5" width="3.5" height="3.5"/><rect x="365.6" y="399.8" width="3.5" height="3.5"/><rect x="363.3" y="400.8" width="3.5" height="3.5"/><rect x="362.2" y="393.4" width="3.5" height="3.5"/><rect x="360.8" y="399.0" width="3.5" height="3.5"/><rect x="361.2" y="399.2" width="3.5" height="3.5"/><rect x="362.1" y="399.8" width="3.5" height="3.5"/><rect x="368.7" y="401.0" width="3.5" height="3.5"/><rect x="361.3" y="398.7" width="3.5" height="3.5"/><rect x="368.6" y="400.3" width="3.5" height="3.5"/><rect x="363.0" y="393.2" width="3.5" height="3.5"/><rect x="366.4" y="399.8" width="3.5" height="3.5"/><rect x="363.2" y="393.2" width="3.5" height="3.5"/><rect x="364.3" y="393.2" width="3.5" height="3.5"/><rect x="363.2" y="399.2" width="3.5" height="3.5"/><rect x="362.1" y="399.4" width="3.5" height="3.5"/><rect x="361.4" y="400.0" width="3.5" height="3.5"/><rect x="362.3" y="396.5" width="3.5" height="3.5"/></g>
<line x1="361.7" y1="286.2" x2="361.7" y2="404.7" stroke="#000" stroke-width="1.6" stroke-linecap="butt"/>
<line x1="361.0" y1="404.0" x2="538.4" y2="404.0" stroke="#000" stroke-width="1.5" stroke-linecap="butt"/>
<line x1="361.7" y1="395.5" x2="507.2" y2="348.8" stroke="#000" stroke-width="1.8" stroke-linecap="butt"/>
</svg>
</body></html>
